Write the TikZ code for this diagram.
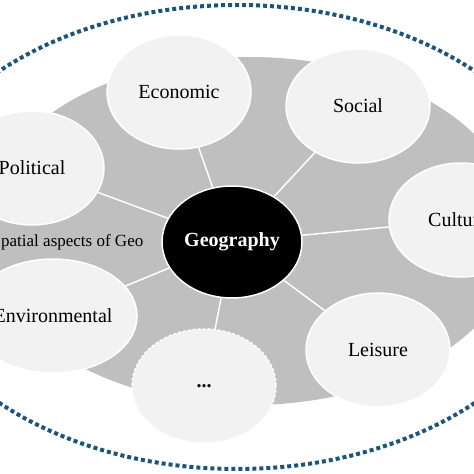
\documentclass[tikz,border=0pt]{standalone}
\usepackage{fontspec}
\setmainfont{Liberation Serif}
\usetikzlibrary{shapes.geometric,backgrounds}
\definecolor{rimblue}{RGB}{30,84,122}
\begin{document}
\begin{tikzpicture}[x=1pt,y=-1pt,
    topic/.style = {shape=ellipse, draw=white, line width=1.5pt,
      fill=black!5, minimum width=144pt, minimum height=114pt,
      inner sep=0pt, font=\fontsize{20}{24}\selectfont},
    core/.style = {topic, fill=black, text=white, minimum width=140pt,
      minimum height=112pt, font=\fontsize{20}{24}\selectfont\bfseries},
    spoke/.style = {draw=white, line width=1.5pt}]
  \useasboundingbox (0,0) rectangle (474,474);
  \clip (0,0) rectangle (474,474);
  \node[core] (geo) at (232,242) {Geography};
  \node[topic] (eco) at (179,92) {Economic};
  \node[topic] (soc) at (358,106) {Social};
  \node[topic] (pol) at (32,168) {Political};
  \node[topic] (env) at (53,316) {Environmental};
  \node[topic] (cul) at (461,220) {Cultural};
  \node[topic] (lei) at (378,350) {Leisure};
  \node[topic, dash pattern=on 3pt off 2pt] (more) at (204,386) {\textbf{...}};
  \node[font=\fontsize{17}{20}\selectfont, anchor=west, inner sep=0pt] (spatial)
    at (1,242) {patial aspects of Geo};
  \begin{scope}[on background layer]
    \draw[rimblue, line width=4pt, dash pattern=on 4pt off 3pt]
      (237,237) ellipse [x radius=340, y radius=232];
    \fill[black!25] (250,231) ellipse [x radius=270, y radius=174];
    \foreach \t in {eco,soc,pol,env,cul,lei,more}
      \draw[spoke] (geo) -- (\t);
  \end{scope}
\end{tikzpicture}
\end{document}
